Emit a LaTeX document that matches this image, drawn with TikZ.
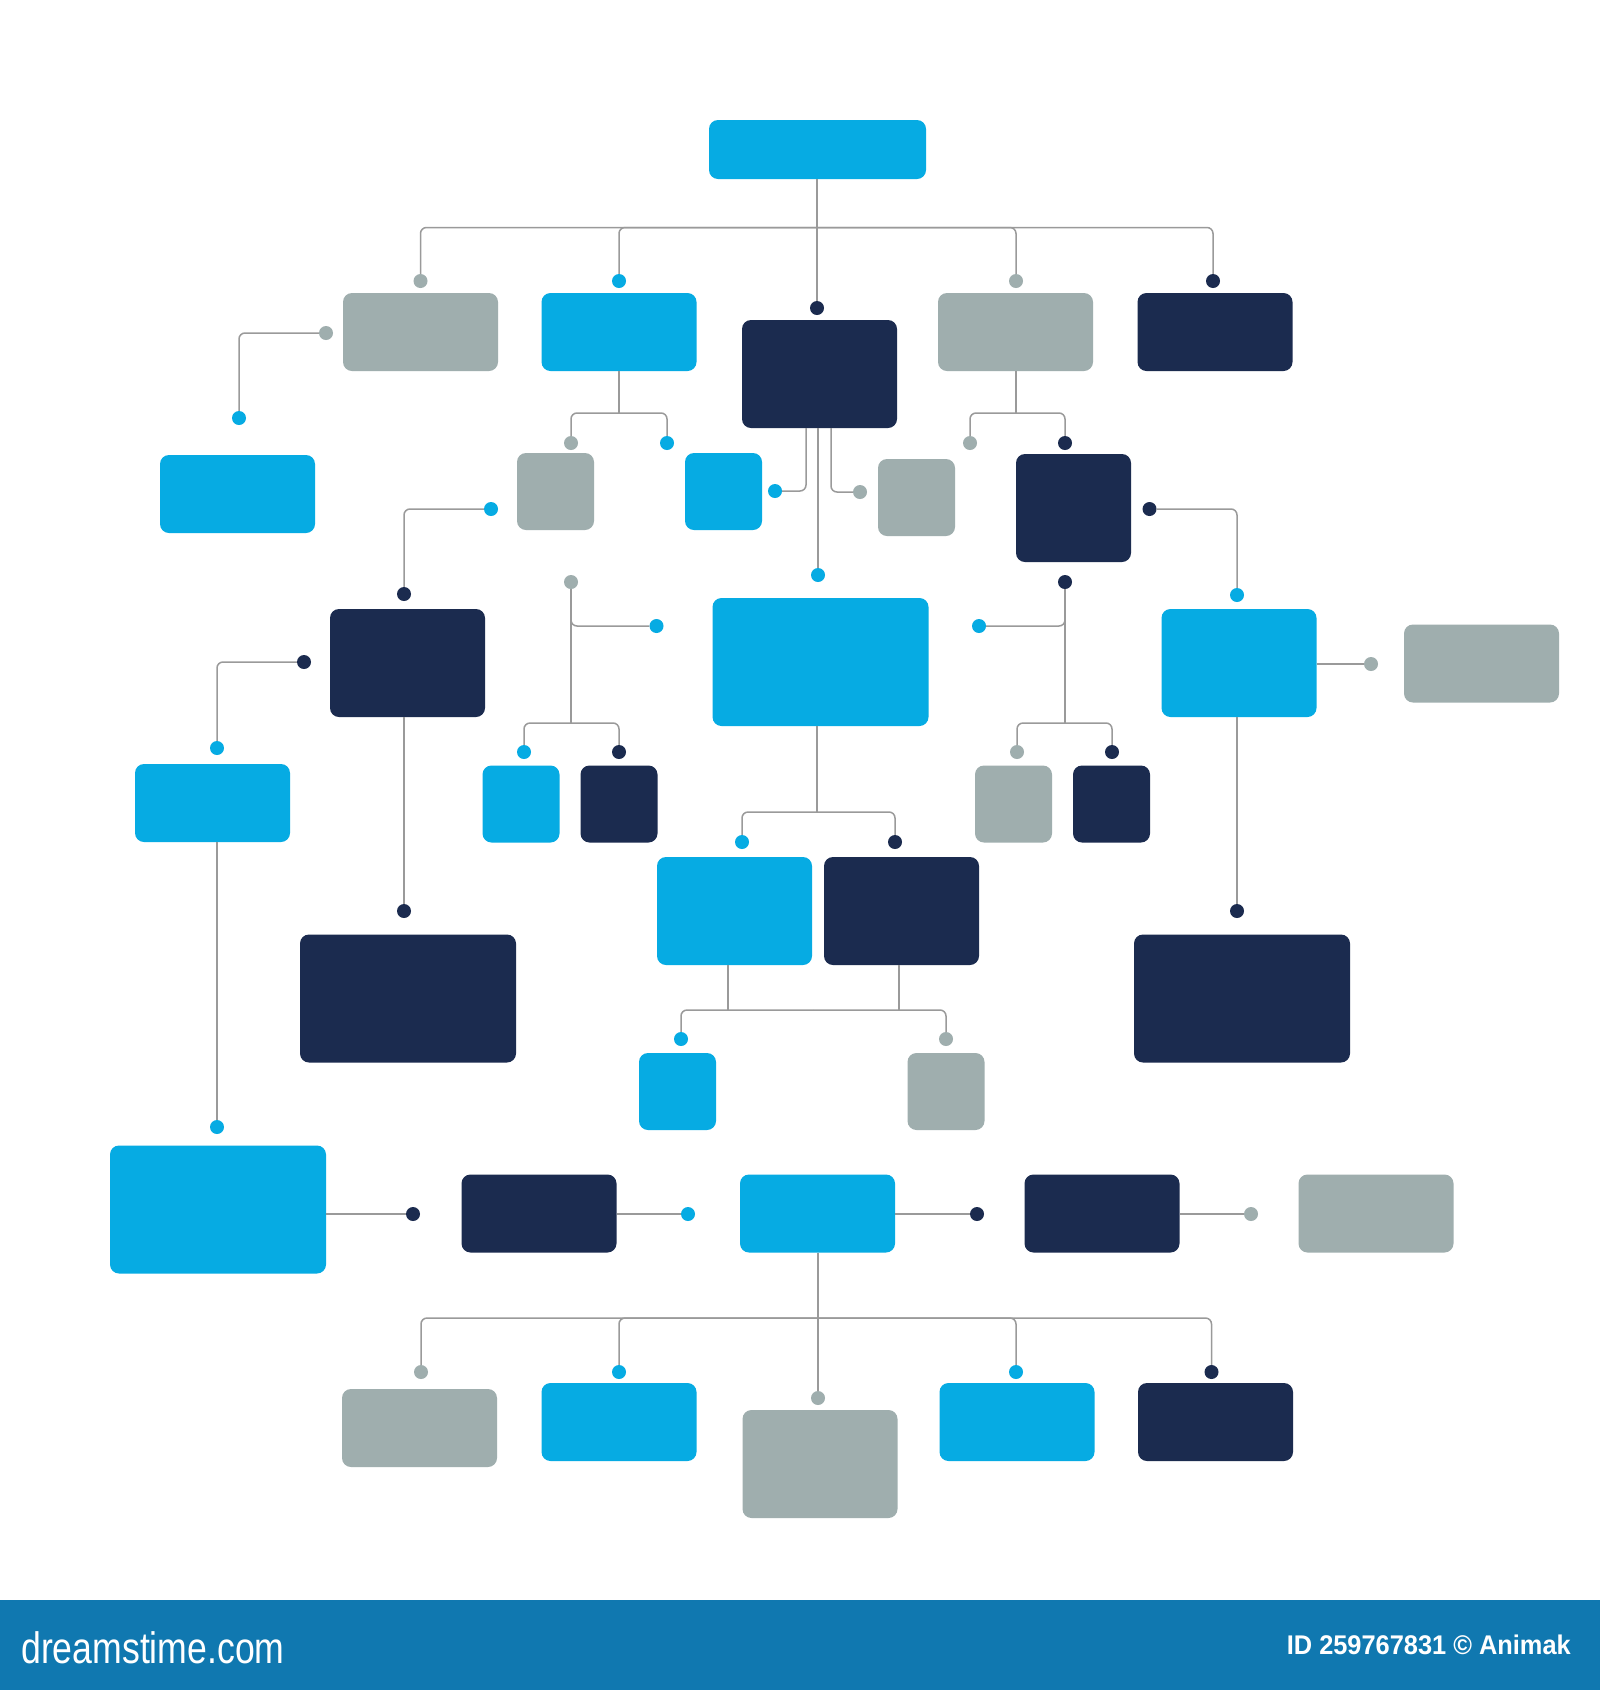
\documentclass[tikz,border=0pt]{standalone}
\usepackage{fontspec}
\newfontfamily\barfont{Liberation Sans}
\usetikzlibrary{calc}
\definecolor{sky}{HTML}{06ABE3}
\definecolor{navy}{HTML}{1B2B4F}
\definecolor{slate}{HTML}{9FAEAE}
\definecolor{wiregray}{HTML}{9A9A9A}
\definecolor{barblue}{HTML}{1078B0}
\tikzset{
  bx/.style={rectangle,rounded corners=9pt,inner sep=0pt},
  bsky/.style={bx,fill=sky},
  bnavy/.style={bx,fill=navy},
  bslate/.style={bx,fill=slate},
  wide/.style={minimum width=155pt,minimum height=78pt},
  tall/.style={minimum width=155pt,minimum height=108pt},
  big/.style={minimum width=216pt,minimum height=128pt},
  sq/.style={minimum width=77pt,minimum height=77pt},
  dt/.style={circle,inner sep=0pt,minimum size=14pt},
  dsky/.style={dt,fill=sky},
  dnavy/.style={dt,fill=navy},
  dslate/.style={dt,fill=slate},
  wire/.style={draw=wiregray,line width=1.5pt,rounded corners=6pt}
}
\begin{document}
\begin{tikzpicture}[x=1pt,y=-1pt]
  \path[fill=white,use as bounding box] (0,0) rectangle (1600,1690);
  % boxes
  \node[bsky,minimum width=217pt,minimum height=59pt](top)at(817.5,149.5){};
  \node[bslate,wide](ga)at(420.5,332){};
  \node[bsky,wide](gb)at(619,332){};
  \node[bnavy,tall](gc)at(819.5,374){};
  \node[bslate,wide](gd)at(1015.5,332){};
  \node[bnavy,wide](ge)at(1215,332){};
  \node[bsky,wide](f)at(237.5,494){};
  \node[bslate,sq](g)at(555.5,491.5){};
  \node[bsky,sq](h)at(723.5,491.5){};
  \node[bslate,sq](i)at(916.5,497.5){};
  \node[bnavy,minimum width=115pt,minimum height=108pt](j)at(1073.5,508){};
  \node[bsky,tall](k)at(1239,663){};
  \node[bslate,wide](n)at(1481.5,663.5){};
  \node[bnavy,big](o)at(1242,998.5){};
  \node[bsky,big](p)at(820.5,662){};
  \node[bnavy,tall](q)at(407.5,663){};
  \node[bsky,sq](r)at(521,804){};
  \node[bnavy,sq](s)at(619,804){};
  \node[bslate,sq](l)at(1013.5,804){};
  \node[bnavy,sq](m)at(1111.5,804){};
  \node[bsky,wide](t)at(212.5,803){};
  \node[bnavy,big](u)at(408,998.5){};
  \node[bsky,big](v)at(218,1209.5){};
  \node[bsky,tall](w)at(734.5,911){};
  \node[bnavy,tall](x)at(901.5,911){};
  \node[bsky,sq](y)at(677.5,1091.5){};
  \node[bslate,sq](z)at(946,1091.5){};
  \node[bnavy,wide](aa)at(539,1213.5){};
  \node[bsky,wide](ab)at(817.5,1213.5){};
  \node[bnavy,wide](ac)at(1102,1213.5){};
  \node[bslate,wide](ad)at(1376,1213.5){};
  \node[bslate,tall](ae)at(820,1464){};
  \node[bslate,wide](af)at(419.5,1428){};
  \node[bsky,wide](ag)at(619,1422){};
  \node[bsky,wide](ah)at(1017,1422){};
  \node[bnavy,wide](ai)at(1215.5,1422){};
  % dots
  \node[dnavy](cdot)at(817,308){};
  \node[dslate](adot)at(420.5,281){};
  \node[dsky](bdot)at(619,281){};
  \node[dslate](ddot)at(1016,281){};
  \node[dnavy](edot)at(1213,281){};
  \node[dslate](gadot)at(326,333){};
  \node[dsky](fdot)at(239,418){};
  \node[dslate](gdot)at(571,443){};
  \node[dsky](hdot)at(667,443){};
  \node[dsky](hrdot)at(775,491){};
  \node[dslate](ildot)at(860,492){};
  \node[dsky](pdot)at(818,575){};
  \node[dslate](jldot)at(970,443){};
  \node[dnavy](jdot)at(1065,443){};
  \node[dnavy](jrdot)at(1149.5,509){};
  \node[dsky](kdot)at(1237,595){};
  \node[dnavy](jbdot)at(1065,582){};
  \node[dsky](prdot)at(979,626){};
  \node[dslate](ldot)at(1017,752){};
  \node[dnavy](mdot)at(1112,752){};
  \node[dslate](ndot)at(1371,664){};
  \node[dnavy](odot)at(1237,911){};
  \node[dsky](gldot)at(491,509){};
  \node[dnavy](qdot)at(404,594){};
  \node[dslate](srcdot)at(571,582){};
  \node[dsky](pldot)at(656.5,626){};
  \node[dsky](rdot)at(524,752){};
  \node[dnavy](sdot)at(619,752){};
  \node[dnavy](qldot)at(304,662){};
  \node[dsky](tdot)at(217,748){};
  \node[dnavy](udot)at(404,911){};
  \node[dsky](vdot)at(217,1127){};
  \node[dsky](wdot)at(742,842){};
  \node[dnavy](xdot)at(895,842){};
  \node[dsky](ydot)at(681,1039){};
  \node[dslate](zdot)at(946,1039){};
  \node[dnavy](aadot)at(413,1214){};
  \node[dsky](abdot)at(688,1214){};
  \node[dnavy](acdot)at(977,1214){};
  \node[dslate](addot)at(1251,1214){};
  \node[dslate](aedot)at(818,1398){};
  \node[dslate](afdot)at(421,1372){};
  \node[dsky](agdot)at(619,1372){};
  \node[dsky](ahdot)at(1016,1372){};
  \node[dnavy](aidot)at(1211.5,1372){};
  % bus points
  \coordinate(bus1)at(817,227.5);
  \coordinate(bbus)at(619,413);
  \coordinate(dbus)at(1016,413);
  \coordinate(jbus)at(1065,723);
  \coordinate(lbus)at(571,723);
  \coordinate(pbus)at(817,812);
  \coordinate(wxbus)at(813,1010);
  \coordinate(abus)at(818,1318);
  % wires
  \draw[wire] (cdot |- top.south) -- (cdot);
  \foreach \d in {adot,bdot,ddot,edot} \draw[wire] (bus1) -| (\d);
  \draw[wire] (gadot) -| (fdot);
  \draw[wire] (gb) -- (bbus);
  \foreach \d in {gdot,hdot} \draw[wire] (bbus) -| (\d);
  \draw[wire] ([xshift=-13.5pt]gc.south) |- (hrdot);
  \draw[wire] ([xshift=11.5pt]gc.south) |- (ildot);
  \draw[wire] (pdot |- gc.south) -- (pdot);
  \draw[wire] (dbus |- gd.south) -- (dbus);
  \foreach \d in {jldot,jdot} \draw[wire] (dbus) -| (\d);
  \draw[wire] (jrdot) -| (kdot);
  \draw[wire] (jbdot) |- (prdot);
  \draw[wire] (jbdot) -- (jbus);
  \foreach \d in {ldot,mdot} \draw[wire] (jbus) -| (\d);
  \draw[wire] (k.east |- ndot) -- (ndot);
  \draw[wire] (odot |- k.south) -- (odot);
  \draw[wire] (gldot) -| (qdot);
  \draw[wire] (srcdot) |- (pldot);
  \draw[wire] (srcdot) -- (lbus);
  \foreach \d in {rdot,sdot} \draw[wire] (lbus) -| (\d);
  \draw[wire] (qldot) -| (tdot);
  \draw[wire] (udot |- q.south) -- (udot);
  \draw[wire] (vdot |- t.south) -- (vdot);
  \draw[wire] (pbus |- p.south) -- (pbus);
  \foreach \d in {wdot,xdot} \draw[wire] (pbus) -| (\d);
  \draw[wire] ([xshift=-6.5pt]w.south) -- ([xshift=-6.5pt]w.south |- wxbus);
  \draw[wire] ([xshift=-2.5pt]x.south) -- ([xshift=-2.5pt]x.south |- wxbus);
  \foreach \d in {ydot,zdot} \draw[wire] (wxbus) -| (\d);
  \draw[wire] (v.east |- aadot) -- (aadot);
  \draw[wire] (aa.east |- abdot) -- (abdot);
  \draw[wire] (ab.east |- acdot) -- (acdot);
  \draw[wire] (ac.east |- addot) -- (addot);
  \draw[wire] (aedot |- ab.south) -- (aedot);
  \foreach \d in {afdot,agdot,ahdot,aidot} \draw[wire] (abus) -| (\d);
  % bottom bar
  \fill[barblue] (0,1600) rectangle (1600,1690);
  \node[anchor=base west,text=white,inner sep=0pt](brand)at(21,1663)
    {\scalebox{0.81}[1]{\barfont\fontsize{44}{50}\selectfont dreamstime.com}};
  \node[anchor=base east,text=white,inner sep=0pt](credit)at(1571,1654)
    {\scalebox{0.94}[1]{\barfont\bfseries\fontsize{27}{32}\selectfont ID 259767831 © Animak}};
\end{tikzpicture}
\end{document}
